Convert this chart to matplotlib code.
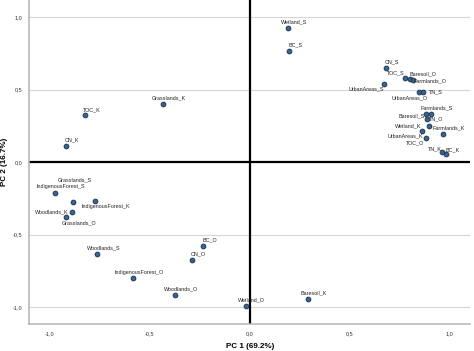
import matplotlib
matplotlib.use("Agg")
import matplotlib.pyplot as plt
from matplotlib.ticker import FuncFormatter

# ---- data ----
labels = ["TOC_K", "CN_K", "Grasslands_K",
          "Wetland_S", "BC_S", "CN_S", "TOC_S", "Baresoil_O", "Farmlands_O",
          "UrbanAreas_S", "UrbanAreas_O", "TN_S", "Baresoil_S", "Farmlands_S",
          "TN_O", "Wetland_K", "UrbanAreas_K", "Farmlands_K", "TOC_O", "TN_K", "BC_K",
          "IndigenousForest_S", "Grasslands_S", "IndigenousForest_K", "Woodlands_K",
          "Grasslands_O", "Woodlands_S", "IndigenousForest_O", "Woodlands_O",
          "BC_O", "CN_O", "Wetland_O", "Baresoil_K"]
pc1 = [-0.822, -0.919, -0.435,
       0.194, 0.200, 0.682, 0.780, 0.806, 0.817,
       0.675, 0.849, 0.867, 0.887, 0.909,
       0.892, 0.899, 0.866, 0.970, 0.883, 0.963, 0.984,
       -0.974, -0.882, -0.772, -0.889,
       -0.919, -0.762, -0.583, -0.372,
       -0.231, -0.289, -0.020, 0.291]
pc2 = [0.322, 0.109, 0.401,
       0.926, 0.768, 0.651, 0.582, 0.575, 0.563,
       0.539, 0.481, 0.481, 0.334, 0.332,
       0.296, 0.248, 0.213, 0.193, 0.165, 0.069, 0.059,
       -0.212, -0.277, -0.270, -0.341,
       -0.380, -0.635, -0.800, -0.915,
       -0.577, -0.676, -0.988, -0.945]
ticks = [-1.0, -0.5, 0.0, 0.5, 1.0]
xlabel = "PC 1 (69.2%)"
ylabel = "PC 2 (16.7%)"

# label placement offsets (pixels, right / up) relative to the point
default_off = (6, 6)
label_off = {
    "TOC_S": (-9.5, 5), "Baresoil_O": (13, 4.7), "Farmlands_O": (17.3, 0),
    "UrbanAreas_S": (-17.4, -5.4), "TN_S": (13, 0), "UrbanAreas_O": (-9, -5.3),
    "Baresoil_S": (-15, -2.3), "TN_O": (9, 0), "Wetland_K": (-21, 0),
    "UrbanAreas_K": (-16.7, -4.2), "TOC_O": (-11, -4.8), "TN_K": (-6.5, 3.2),
    "BC_K": (7, 3.3), "Grasslands_S": (1.5, 23), "IndigenousForest_K": (10.5, -5.3),
    "Woodlands_K": (-20, 0), "Grasslands_O": (12.5, -5.3),
}

plt.rcParams['font.family'] = ['Liberation Sans', 'DejaVu Sans']

fig = plt.figure(figsize=(4.74, 3.51), dpi=100)
ax = fig.add_axes([29 / 474, 27 / 351, 441 / 474, 324 / 351])
ax.set_xlim(-1.105, 1.105)
ax.set_ylim(-1.115, 1.117)

for t in [-1.0, -0.5, 0.5, 1.0]:
    ax.axhline(t, color="#d6d6d6", lw=0.8, zorder=1)
ax.axhline(0, color="black", lw=1.6, zorder=2)
ax.axvline(0, color="black", lw=1.6, zorder=2)

ax.scatter(pc1, pc2, s=12, facecolor="#33659a", edgecolor="#1b2c40",
           linewidths=0.6, zorder=3)

for name, x, y in zip(labels, pc1, pc2):
    off = label_off.get(name, default_off)
    ax.annotate(name, (x, y), xytext=off, textcoords="offset pixels",
                ha="center", va="center", fontsize=3.9, color="#222222",
                zorder=4)

fmt = FuncFormatter(lambda v, p: f"{v:.1f}".replace(".", ","))
ax.set_xticks(ticks)
ax.set_yticks(ticks)
ax.xaxis.set_major_formatter(fmt)
ax.yaxis.set_major_formatter(fmt)
ax.tick_params(length=0, labelsize=4, colors="#333333", pad=5)

for s in ["top", "right"]:
    ax.spines[s].set_visible(False)
for s in ["left", "bottom"]:
    ax.spines[s].set_color("#b3b3b3")
    ax.spines[s].set_linewidth(1.1)

ax.set_xlabel(xlabel, fontsize=5.8, fontweight="bold")
ax.set_ylabel(ylabel, fontsize=5.8, fontweight="bold")
ax.xaxis.set_label_coords((250 - 29) / 441, -19 / 324)
ax.yaxis.set_label_coords(-21 / 441, (324 - 162) / 324)

fig.savefig("out.png", dpi=100)
